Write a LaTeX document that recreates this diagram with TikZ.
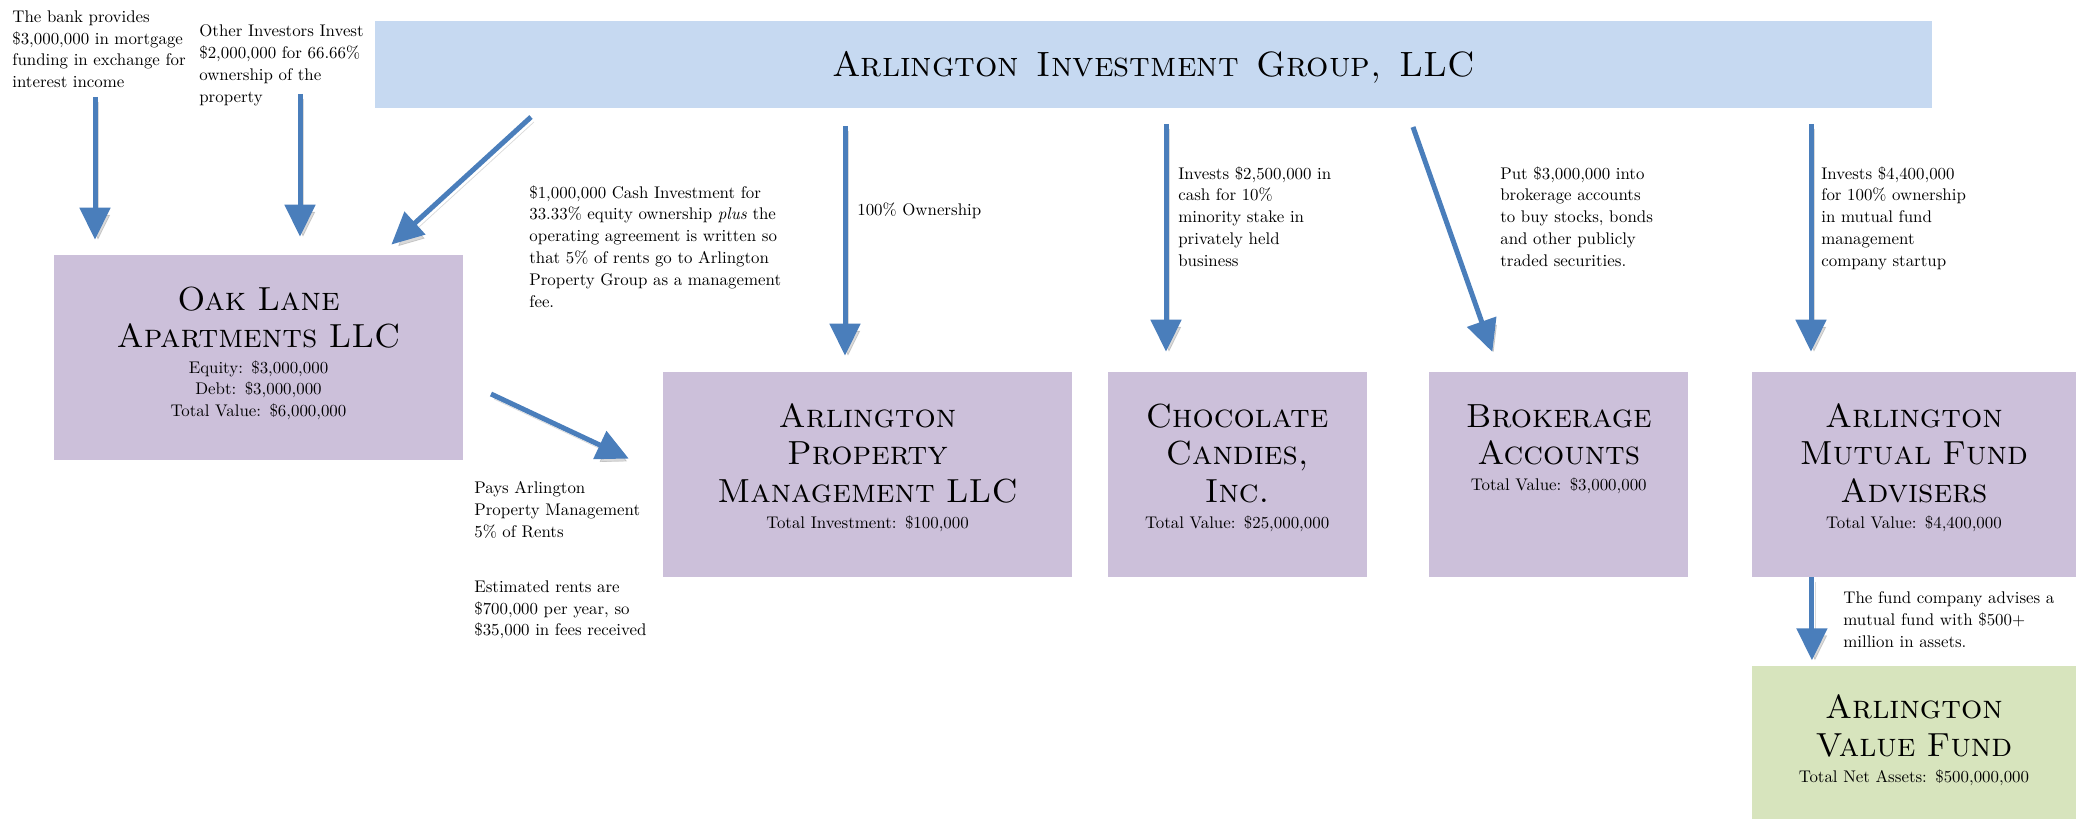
\documentclass[tikz,border=0pt]{standalone}
\usepackage{tikz}
\usetikzlibrary{arrows.meta, positioning}

\definecolor{groupblue}{HTML}{C6D9F1}
\definecolor{boxpurple}{HTML}{CCC0DA}
\definecolor{fundgreen}{HTML}{D7E4BD}
\definecolor{arrowblue}{HTML}{4A7EBB}

\newcommand{\boxttl}{\fontsize{19}{21.6}\selectfont\scshape}
\newcommand{\boxsub}{\normalfont\fontsize{9.6}{12}\selectfont}

\begin{document}
\begin{tikzpicture}[
    x=0.02cm, y=-0.02cm,
    font=\fontsize{9.6}{12.5}\selectfont,
    head/.style={fill=groupblue, inner sep=0pt, align=center, text width=31.14cm, text height=1.12cm, text depth=0.62cm, font=\fontsize{20}{24}\selectfont\scshape},
    box/.style={fill=boxpurple, inner sep=0pt, align=center, text height=1.1cm, text depth=3cm},
    note/.style={anchor=north west, inner sep=0pt, align=left},
    arr/.style={draw=arrowblue, line width=0.1cm, -{Triangle[width=0.6cm, length=0.64cm]},
        preaction={draw=black, opacity=0.15, transform canvas={shift={(0.06cm,-0.1cm)}}}},
]
\useasboundingbox (0,0) rectangle (2099,831);

\node[head] (group) at (1153.5,64.5) {Arlington~\,Investment~\,Group,~\,LLC};

\node[box, text width=8.18cm] (oak) at (258.5,357.5) {\boxttl Oak~\,Lane\\ Apartments~\,LLC\par\vspace{2.3pt}\boxsub Equity: \$3,000,000\\ Debt: \$3,000,000\\ Total Value: \$6,000,000};
\node[box, text width=8.18cm] (apm) at (867.5,474.5) {\boxttl Arlington\\ Property\\ Management~\,LLC\par\vspace{2.3pt}\boxsub Total Investment: \$100,000};
\node[box, text width=5.18cm, right=0.7cm of apm] (choc) {\boxttl Chocolate\\ Candies,\\ Inc.\par\vspace{2.3pt}\boxsub Total Value: \$25,000,000};
\node[box, text width=5.18cm, right=1.24cm of choc] (brok) {\boxttl Brokerage\\ Accounts\par\vspace{2.3pt}\boxsub Total Value: \$3,000,000};
\node[box, text width=6.48cm, right=1.26cm of brok] (mf) {\boxttl Arlington\\ Mutual~\,Fund\\ Advisers\par\vspace{2.3pt}\boxsub Total Value: \$4,400,000};
\node[box, text width=6.48cm, fill=fundgreen, text height=1.06cm, text depth=2cm, below=1.76cm of mf] (vf) {\boxttl Arlington\\ Value~\,Fund\par\vspace{2.3pt}\boxsub Total Net Assets: \$500,000,000};

% notes
\node[note] (bankTxt) at (12,10) {The bank provides\\\$3,000,000 in mortgage\\funding in exchange for\\interest income};
\node[note] (invTxt) at (199,24) {Other Investors Invest\\\$2,000,000 for 66.66\%\\ownership of the\\property};
\node[note] (cashTxt) at (529,185) {\$1,000,000 Cash Investment for\\33.33\% equity ownership \emph{plus} the\\operating agreement is written so\\that 5\% of rents go to Arlington\\Property Group as a management\\fee.};
\node[note] (ownTxt) at (857,202) {100\% Ownership};
\node[note] (chocTxt) at (1178,166) {Invests \$2,500,000 in\\cash for 10\%\\minority stake in\\privately held\\business};
\node[note] (brokTxt) at (1500,166) {Put \$3,000,000 into\\brokerage accounts\\to buy stocks, bonds\\and other publicly\\traded securities.};
\node[note] (mfTxt) at (1821,166) {Invests \$4,400,000\\for 100\% ownership\\in mutual fund\\management\\company startup};
\node[note] (payTxt) at (474,481) {Pays Arlington\\Property Management\\5\% of Rents};
\node[note] (rentTxt) at (474,580) {Estimated rents are\\\$700,000 per year, so\\\$35,000 in fees received};
\node[note] (fundTxt) at (1843,591) {The fund company advises a\\mutual fund with \$500+\\million in assets.};

% arrows
\coordinate (bankS) at (95,97);
\coordinate (invS) at (300,94);
\coordinate (cashS) at (531,117);
\coordinate (ownS) at (845,126);
\coordinate (chocS) at (1166,124);
\coordinate (brokS) at (1413,127);
\coordinate (mfS) at (1811,124);
\coordinate (rentS) at (491,394);

\draw[arr, shorten >=0.3cm]  (bankS) -- (bankS |- oak.north);
\draw[arr, shorten >=0.36cm] (invS)  -- (invS |- oak.north);
\draw[arr, shorten >=0.3cm]  (cashS) -- ([xshift=-1.66cm]oak.north east);
\draw[arr, shorten >=0.32cm] (ownS)  -- (ownS |- apm.north);
\draw[arr, shorten >=0.4cm]  (chocS) -- (chocS |- choc.north);
\draw[arr, shorten >=0.42cm] (brokS) -- ([xshift=-1.19cm]brok.north);
\draw[arr, shorten >=0.4cm]  (mfS)   -- (mfS |- mf.north);
\draw[arr, shorten >=0.1cm]  ([xshift=-2.04cm]mf.south) -- ([xshift=-2.04cm]vf.north);
\draw[arr, shorten >=0.75cm] (rentS) -- (apm.west);

\end{tikzpicture}
\end{document}
